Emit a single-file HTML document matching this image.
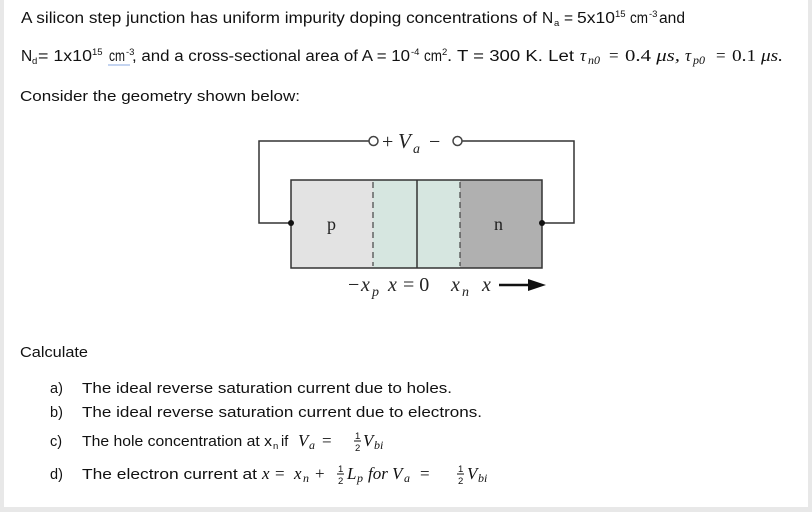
<!DOCTYPE html>
<html><head><meta charset="utf-8"><style>
html,body{margin:0;padding:0;background:#e8e8e8;}
svg{display:block;}
.t{font-family:"Liberation Sans",sans-serif;font-size:14.5px;fill:#111;}
.L{font-family:"Liberation Sans",sans-serif;font-size:15.5px;fill:#111;}
.u{font-family:"Liberation Sans",sans-serif;font-size:9.5px;fill:#111;}
.m{font-family:"Liberation Serif",serif;font-style:italic;font-size:17px;fill:#111;}
.n{font-family:"Liberation Serif",serif;font-size:17px;fill:#111;}
.ms{font-family:"Liberation Serif",serif;font-style:italic;font-size:12px;fill:#111;}
.s{font-family:"Liberation Serif",serif;fill:#222;}
</style></head><body>
<svg width="812" height="512" viewBox="0 0 812 512" xmlns="http://www.w3.org/2000/svg">
<rect x="0" y="0" width="812" height="512" fill="#e8e8e8"/>
<rect x="4" y="0" width="804" height="507" fill="#ffffff"/>

<!-- line 1 -->
<text class="L" x="21" y="23" textLength="516" lengthAdjust="spacingAndGlyphs">A silicon step junction has uniform impurity doping concentrations of</text>
<text class="L" x="542" y="23">N</text>
<text class="u" x="554" y="26">a</text>
<text class="L" x="564" y="23">=</text>
<text class="L" x="577" y="23" textLength="38" lengthAdjust="spacingAndGlyphs">5x10</text>
<text class="u" x="615" y="17">15</text>
<text class="L" x="630" y="23" textLength="18" lengthAdjust="spacingAndGlyphs">cm</text>
<text class="u" x="649" y="17">-3</text>
<text class="L" x="659" y="23" textLength="26" lengthAdjust="spacingAndGlyphs">and</text>

<!-- line 2 -->
<text class="L" x="21" y="61">N</text>
<text class="u" x="32" y="64">d</text>
<text class="L" x="38" y="61" textLength="54" lengthAdjust="spacingAndGlyphs">= 1x10</text>
<text class="u" x="92" y="55">15</text>
<text class="L" x="109" y="61" textLength="16" lengthAdjust="spacingAndGlyphs">cm</text>
<text class="u" x="126" y="55">-3</text>
<line x1="108" y1="65" x2="130" y2="65" stroke="#8aa8e0" stroke-width="1"/>
<text class="L" x="132" y="61" textLength="278" lengthAdjust="spacingAndGlyphs">, and a cross-sectional area of A = 10</text>
<text class="u" x="411" y="55">-4</text>
<text class="L" x="424" y="61" textLength="18" lengthAdjust="spacingAndGlyphs">cm</text>
<text class="u" x="442" y="55">2</text>
<text class="L" x="447" y="61" textLength="127" lengthAdjust="spacingAndGlyphs">. T = 300 K. Let</text>
<text class="m" x="580" y="61">τ</text><text class="ms" x="588" y="64">n0</text>
<text class="n" x="609" y="61">=</text>
<text class="m" x="625" y="61" textLength="55" lengthAdjust="spacingAndGlyphs"><tspan font-style="normal">0.4 </tspan>μs,</text>
<text class="m" x="685" y="61">τ</text><text class="ms" x="693" y="64">p0</text>
<text class="n" x="716" y="61">=</text>
<text class="m" x="732" y="61" textLength="51" lengthAdjust="spacingAndGlyphs"><tspan font-style="normal">0.1 </tspan>μs.</text>

<text class="t" x="20" y="101" textLength="280" lengthAdjust="spacingAndGlyphs">Consider the geometry shown below:</text>

<!-- diagram -->
<g stroke="#333" stroke-width="1.5" fill="none">
<polyline points="369,141 259,141 259,223 291,223"/>
<polyline points="462,141 574,141 574,223 542,223"/>
</g>
<circle cx="373.5" cy="141" r="4.5" fill="#fff" stroke="#444" stroke-width="1.5"/>
<circle cx="457.5" cy="141" r="4.5" fill="#fff" stroke="#444" stroke-width="1.5"/>
<text class="s" x="382" y="148" font-size="20">+</text>
<text class="s" x="398" y="148" font-size="21" font-style="italic">V</text>
<text class="s" x="413" y="153" font-size="14" font-style="italic">a</text>
<text class="s" x="429" y="148" font-size="20">−</text>

<rect x="291" y="180" width="82" height="88" fill="#e3e3e3"/>
<rect x="373" y="180" width="87" height="88" fill="#d6e6e0"/>
<rect x="460" y="180" width="82" height="88" fill="#b0b0b0"/>
<rect x="291" y="180" width="251" height="88" fill="none" stroke="#333" stroke-width="1.5"/>
<line x1="373" y1="182" x2="373" y2="266" stroke="#444" stroke-width="1.2" stroke-dasharray="6,4"/>
<line x1="460" y1="182" x2="460" y2="266" stroke="#444" stroke-width="1.2" stroke-dasharray="6,4"/>
<line x1="417" y1="180" x2="417" y2="268" stroke="#333" stroke-width="1.5"/>
<circle cx="291" cy="223" r="3" fill="#111"/>
<circle cx="542" cy="223" r="3" fill="#111"/>
<text class="s" x="327" y="230" font-size="18">p</text>
<text class="s" x="494" y="230" font-size="18">n</text>

<text class="s" x="348" y="291" font-size="20">−</text>
<text class="s" x="361" y="291" font-size="20" font-style="italic">x</text>
<text class="s" x="372" y="296" font-size="14" font-style="italic">p</text>
<text class="s" x="388" y="291" font-size="20" font-style="italic">x</text>
<text class="s" x="403" y="291" font-size="20">= 0</text>
<text class="s" x="451" y="291" font-size="20" font-style="italic">x</text>
<text class="s" x="462" y="296" font-size="14" font-style="italic">n</text>
<text class="s" x="482" y="291" font-size="20" font-style="italic">x</text>
<line x1="499" y1="285" x2="530" y2="285" stroke="#111" stroke-width="2.5"/>
<polygon points="528,279 546,285 528,291" fill="#111"/>

<text class="t" x="20" y="357" textLength="68" lengthAdjust="spacingAndGlyphs">Calculate</text>

<text class="t" x="50" y="393">a)</text>
<text class="t" x="82" y="393" textLength="370" lengthAdjust="spacingAndGlyphs">The ideal reverse saturation current due to holes.</text>
<text class="t" x="50" y="417">b)</text>
<text class="t" x="82" y="417" textLength="400" lengthAdjust="spacingAndGlyphs">The ideal reverse saturation current due to electrons.</text>

<text class="t" x="50" y="446">c)</text>
<text class="t" x="82" y="446" textLength="190" lengthAdjust="spacingAndGlyphs">The hole concentration at x</text>
<text class="u" x="273" y="449">n</text>
<text class="t" x="281" y="446">if</text>
<text class="m" x="298" y="446">V</text><text class="ms" x="309" y="449">a</text>
<text class="n" x="322" y="446">=</text>
<text class="u" x="355" y="439">1</text><line x1="354" y1="441" x2="361" y2="441" stroke="#111"/><text class="u" x="355" y="451">2</text>
<text class="m" x="363" y="446">V</text><text class="ms" x="374" y="449">bi</text>

<text class="t" x="50" y="479">d)</text>
<text class="t" x="82" y="479" textLength="175" lengthAdjust="spacingAndGlyphs">The electron current at</text>
<text class="m" x="262" y="479">x</text>
<text class="n" x="275" y="479">=</text>
<text class="m" x="294" y="479">x</text><text class="ms" x="303" y="482">n</text>
<text class="n" x="315" y="479">+</text>
<text class="u" x="338" y="472">1</text><line x1="337" y1="474" x2="344" y2="474" stroke="#111"/><text class="u" x="338" y="484">2</text>
<text class="m" x="347" y="479">L</text><text class="ms" x="357" y="482">p</text>
<text class="m" x="368" y="479">for V</text><text class="ms" x="404" y="482">a</text>
<text class="n" x="420" y="479">=</text>
<text class="u" x="458" y="472">1</text><line x1="457" y1="474" x2="464" y2="474" stroke="#111"/><text class="u" x="458" y="484">2</text>
<text class="m" x="467" y="479">V</text><text class="ms" x="478" y="482">bi</text>
</svg>
</body></html>
